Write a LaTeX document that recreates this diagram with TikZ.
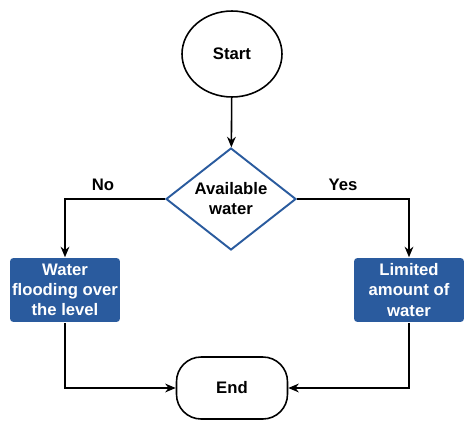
\documentclass[tikz,border=0pt]{standalone}
\usepackage{fontspec}
\setmainfont{Liberation Sans}
\usetikzlibrary{arrows.meta,shapes.geometric}
\definecolor{boxblue}{HTML}{2A5B9E}

\begin{document}
\begin{tikzpicture}[x=0.02cm,y=-0.02cm,line width=0.9pt,>={Stealth[length=6pt,width=5pt]},
  font=\bfseries\fontsize{9.5}{11.4}\selectfont,
  startend/.style={draw,ellipse,inner sep=0pt,minimum width=2cm,minimum height=1.72cm},
  decision/.style={draw=boxblue,line width=1.1pt,diamond,aspect=1.27,inner sep=0pt,
    minimum width=2.6cm,minimum height=2.04cm,align=center},
  process/.style={fill=boxblue,text=white,rounded corners=2pt,minimum width=2.2cm,
    minimum height=1.28cm,align=center,inner sep=1pt},
  terminal/.style={draw,rectangle,rounded corners=14pt,minimum width=2.22cm,minimum height=1.24cm}]
\useasboundingbox (0,0) rectangle (474,430);
% nodes
\node[startend] (start) at (232,54) {Start};
\node[decision] (avail) at (231,199) {Available\\water};
\node[process] (flood) at (65,290) {Water\\flooding over\\the level};
\node[process] (limit) at (409,290) {Limited\\amount of\\water};
\node[terminal] (end) at (232,388) {End};
% connectors
\draw[->] (start) -- (avail);
\draw[->] (avail.west) -| (flood.north);
\draw[->] (avail.east) -| (limit.north);
\draw[->] (flood.south) |- (end.west);
\draw[->] (limit.south) |- (end.east);
% labels
\node at (103,185) {No};
\node at (343,185) {Yes};
\end{tikzpicture}
\end{document}
